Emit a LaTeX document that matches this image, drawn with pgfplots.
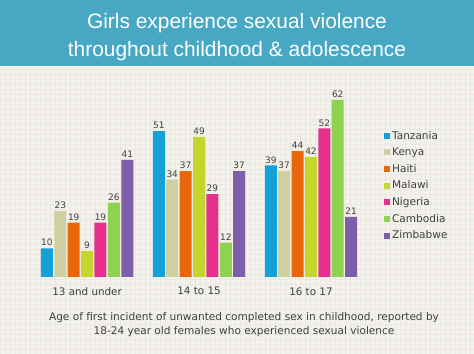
\documentclass[border=0pt]{standalone}
\usepackage{fontspec}
\setmainfont{DejaVu Sans}
\newfontfamily\titlefont{Liberation Sans}
\usepackage{pgfplots}
\pgfplotsset{compat=1.18}
\definecolor{banner}{HTML}{48A8C4}
\definecolor{bg}{HTML}{F4F2EC}
\definecolor{gridc}{HTML}{EBE8E0}
\definecolor{txt}{HTML}{404040}
\definecolor{cTan}{HTML}{12A2D6}
\definecolor{cKen}{HTML}{CFCFA2}
\definecolor{cHai}{HTML}{E8670C}
\definecolor{cMal}{HTML}{C4D52B}
\definecolor{cNig}{HTML}{E5318B}
\definecolor{cCam}{HTML}{8FD150}
\definecolor{cZim}{HTML}{7E5EA8}
\begin{document}
\begin{tikzpicture}
\fill[bg] (0bp,0bp) rectangle (474bp,354bp);
\draw[gridc, line width=0.3bp, step=5bp] (0bp,0bp) grid (474bp,286bp);
\fill[banner] (0bp,288bp) rectangle (474bp,354bp);
\node[white, font=\titlefont\fontsize{21}{28}\selectfont, align=center] at (237bp,317bp) {Girls experience sexual violence\\throughout childhood \& adolescence};
\node[txt, font=\fontsize{10.6}{14}\selectfont, align=center] at (244bp,29bp) {Age of first incident of unwanted completed sex in childhood, reported by\\18-24 year old females who experienced sexual violence};
\begin{axis}[
  at={(31bp,77bp)}, anchor=south west,
  scale only axis, width=336bp, height=200bp,
  xmin=-0.5, xmax=2.5, ymin=0, ymax=70,
  ybar=1.4bp, bar width=12bp,
  axis line style={draw=none},
  ytick=\empty,
  xtick={0,1,2}, xticklabels={13 and under,14 to 15,16 to 17},
  major tick length=0,
  xticklabel style={font=\fontsize{10.4}{12}\selectfont, text=txt, yshift=-7bp},
  clip=false,
  nodes near coords,
  /pgf/number format/assume math mode=true,
  every node near coord/.append style={font=\fontsize{9}{11}\selectfont, text=txt, inner sep=2bp},
  legend style={at={(1.0506,0.74)}, anchor=north west, draw=none, fill=none,
    font=\fontsize{10.6}{12}\selectfont, text=txt, row sep=3.2bp, inner sep=0pt},
  legend cell align=left,
  legend image code/.code={\fill[#1] (0bp,-3bp) rectangle (6bp,3bp);},
]
\addplot[fill=cTan, draw=none] coordinates {(0,10) (1,51) (2,39)};
\addplot[fill=cKen, draw=none] coordinates {(0,23) (1,34) (2,37)};
\addplot[fill=cHai, draw=none] coordinates {(0,19) (1,37) (2,44)};
\addplot[fill=cMal, draw=none] coordinates {(0,9) (1,49) (2,42)};
\addplot[fill=cNig, draw=none] coordinates {(0,19) (1,29) (2,52)};
\addplot[fill=cCam, draw=none] coordinates {(0,26) (1,12) (2,62)};
\addplot[fill=cZim, draw=none] coordinates {(0,41) (1,37) (2,21)};
\legend{Tanzania,Kenya,Haiti,Malawi,Nigeria,Cambodia,Zimbabwe}
\end{axis}
\end{tikzpicture}
\end{document}
